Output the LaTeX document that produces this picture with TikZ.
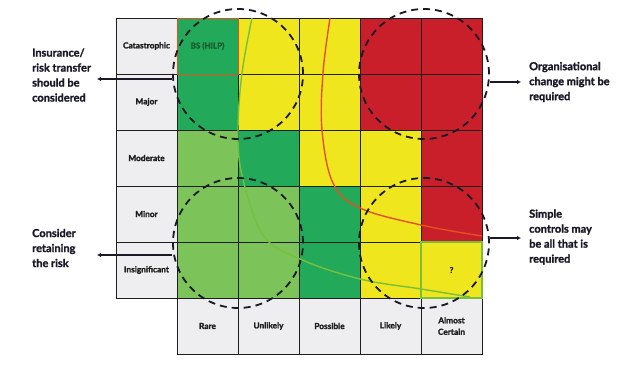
\documentclass[tikz,border=0pt]{standalone}
\usepackage{fontspec}
\setsansfont{Lato}[BoldFeatures={FakeBold=1.6}]
\usetikzlibrary{arrows.meta}
\definecolor{dg}{RGB}{34,170,90}
\definecolor{lg}{RGB}{124,196,90}
\definecolor{yl}{RGB}{240,230,30}
\definecolor{rd}{RGB}{201,31,42}
\definecolor{lblgray}{RGB}{238,238,240}
\definecolor{gridline}{RGB}{30,30,30}
\definecolor{ringcol}{RGB}{25,25,40}
\definecolor{redcurve}{RGB}{228,80,35}
\definecolor{greencurve}{RGB}{120,192,60}
\tikzset{
  cell/.style={draw=gridline, line width=0.9pt, minimum width=61pt, minimum height=56pt, inner sep=0pt, outer sep=0pt},
  lbl/.style={cell, fill=lblgray, font=\sffamily\bfseries\fontsize{8.3}{11.5}\selectfont, text=gridline, align=center},
  ring/.style={circle, draw=ringcol, line width=1.8pt, dash pattern=on 7pt off 5pt, minimum size=130pt, inner sep=0pt},
  note/.style={align=left, anchor=west, inner sep=0pt, text=ringcol, font=\sffamily\bfseries\fontsize{11}{15}\selectfont},
  pointer/.style={draw=ringcol, line width=1.2pt, -{Latex[length=4pt,width=4.5pt]}}
}
\begin{document}
\begin{tikzpicture}[x=1pt,y=-1pt]
  \useasboundingbox (0,0) rectangle (640,366);
  % matrix cells, one row at a time
  \foreach \col [count=\c] in {dg,yl,yl,rd,rd}
    \node[cell,fill=\col] (m1\c) at ({146.5+61*\c},46) {};
  \foreach \col [count=\c] in {dg,yl,yl,rd,rd}
    \node[cell,fill=\col] (m2\c) at ({146.5+61*\c},102) {};
  \foreach \col [count=\c] in {lg,dg,yl,yl,rd}
    \node[cell,fill=\col] (m3\c) at ({146.5+61*\c},158) {};
  \foreach \col [count=\c] in {lg,lg,dg,yl,rd}
    \node[cell,fill=\col] (m4\c) at ({146.5+61*\c},214) {};
  \foreach \col [count=\c] in {lg,lg,dg,yl,yl}
    \node[cell,fill=\col] (m5\c) at ({146.5+61*\c},270) {};
  % impact and likelihood labels
  \foreach \lab [count=\r] in {Catastrophic,Major,Moderate,Minor,Insignificant}
    \node[lbl] (r\r) at (146.5,{46+56*(\r-1)}) {\lab};
  \foreach \lab [count=\c] in {Rare,Unlikely,Possible,Likely,{Almost\\Certain}}
    \node[lbl] (k\c) at ({146.5+61*\c},326) {\lab};
  % marked cells
  \draw[redcurve, line width=0.9pt] (m11.south west) rectangle (m11.north east);
  \node[font=\sffamily\bfseries\fontsize{8}{9}\selectfont, text={rgb,255:red,25;green,90;blue,45}] (bs) at (m11) {BS (HILP)};
  \draw[greencurve, line width=1.4pt] (m55.south west) rectangle (m55.north east);
  \node[font=\sffamily\bfseries\fontsize{8}{9}\selectfont, text=gridline] (q) at (m55) {?};
  % appetite curves
  \draw[redcurve, line width=1.4pt] plot[smooth, tension=0.6] coordinates
    {(330,18) (323,73) (322,130) (333,183) (360,208) (421,225) (482,236)};
  \draw[greencurve, line width=1.4pt] plot[smooth, tension=0.6] coordinates
    {(252,18) (242,73) (238,130) (242,175) (263,235) (300,259) (360,279) (421,289) (470,297)};
  % zones
  \node[ring] (tl) at (238,74) {};
  \node[ring] (tr) at (424,74) {};
  \node[ring] (bl) at (238,243) {};
  \node[ring] (br) at (424,243) {};
  % notes
  \node[note] (ins) at (32,75) {Insurance/\\risk transfer\\should be\\considered};
  \node[note] (ret) at (32,248) {Consider\\retaining\\the risk};
  \node[note] (org) at (529,82) {Organisational\\change might be\\required};
  \node[note] (sim) at (529,237) {Simple\\controls may\\be all that is\\required};
  \coordinate (insTip) at (97,79);
  \coordinate (retTip) at (97,255);
  \coordinate (orgTip) at (521,82);
  \coordinate (simTip) at (521,238);
  \draw[pointer] (tl.west |- insTip) -- (insTip);
  \draw[pointer] (bl.west |- retTip) -- (retTip);
  \draw[pointer] (tr.east |- orgTip) -- (orgTip);
  \draw[pointer] (br.east |- simTip) -- (simTip);
\end{tikzpicture}
\end{document}
